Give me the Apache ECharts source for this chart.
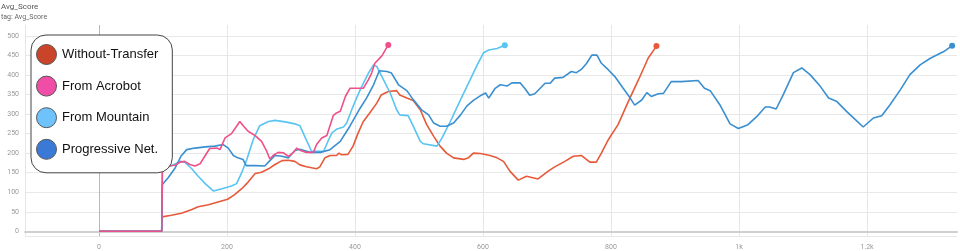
<!DOCTYPE html>
<html>
<head>
<meta charset="utf-8">
<script src="https://cdn.jsdelivr.net/npm/echarts@6/dist/echarts.min.js"></script>
<style>html,body{margin:0;padding:0;background:#fff;}#c{width:960px;height:251px;}</style>
</head>
<body>
<div id="c"></div>
<script>
// ---- data (step, Avg_Score) ----
const seriesNames = ['Without-Transfer', 'From Acrobot', 'From Mountain', 'Progressive Net.'];

const withoutTransfer = [
  [0,0],[98,0],[99,37],[113,41],[129,46],[145,56],[155,63],[171,68],[186,75],[201,82],[212,94],[223,109],
  [233,126],[244,148],[254,151],[265,160],[275,171],[286,181],[296,182],[306,179],[314,170],[324,165],
  [340,160],[345,165],[353,188],[361,194],[371,194],[375,200],[379,196],[389,197],[397,218],[405,252],
  [413,281],[423,303],[434,328],[441,349],[452,358],[465,360],[470,349],[481,341],[491,335],[502,311],
  [512,273],[523,243],[533,218],[543,200],[554,188],[570,184],[577,188],[585,200],[596,199],[611,194],
  [622,188],[632,179],[642,154],[655,131],[668,141],[686,134],[702,154],[712,165],[728,179],[741,192],
  [754,194],[767,177],[777,177],[785,200],[796,235],[811,273],[827,332],[843,388],[858,443],[871,474]
];

const fromAcrobot = [
  [0,0],[98,0],[99,154],[108,167],[119,169],[127,177],[134,179],[142,171],[150,167],[158,173],[166,194],
  [173,212],[184,213],[189,209],[197,239],[207,250],[215,269],[220,281],[226,269],[233,256],[244,245],
  [254,230],[262,205],[267,185],[272,194],[280,202],[288,201],[296,192],[304,202],[309,213],[316,206],
  [324,202],[335,202],[340,222],[348,239],[356,245],[366,296],[371,303],[377,307],[385,345],[392,366],
  [413,366],[421,388],[426,405],[431,430],[442,449],[452,477]
];

const fromMountain = [
  [0,0],[98,0],[99,160],[113,168],[127,179],[134,177],[145,160],[155,141],[166,122],[179,103],[192,109],
  [207,116],[215,122],[223,150],[231,184],[241,235],[251,270],[265,281],[275,284],[291,280],[306,275],
  [314,270],[322,241],[332,205],[351,205],[359,235],[364,252],[372,262],[382,267],[387,277],[397,320],
  [408,362],[421,405],[429,426],[434,422],[442,396],[455,354],[465,311],[470,298],[483,296],[491,269],
  [502,230],[507,224],[528,218],[536,239],[549,281],[565,337],[580,388],[591,426],[601,457],[609,464],
  [622,468],[634,476]
];

const progressiveNet = [
  [0,0],[98,0],[99,120],[108,137],[119,162],[128,192],[137,209],[150,213],[166,216],[181,218],[194,222],
  [202,213],[210,194],[217,188],[225,184],[230,168],[243,168],[259,167],[267,181],[275,194],[286,192],
  [296,188],[306,207],[314,210],[330,202],[346,202],[361,209],[377,230],[392,269],[408,315],[418,341],
  [429,375],[438,411],[450,409],[457,405],[468,375],[481,360],[491,337],[504,311],[515,298],[523,277],
  [533,269],[543,269],[554,277],[565,298],[575,321],[585,335],[598,349],[604,354],[609,341],[619,366],
  [627,375],[638,372],[645,380],[658,380],[666,364],[673,348],[681,352],[697,379],[705,379],[712,392],
  [725,394],[738,409],[746,406],[754,415],[762,430],[770,451],[778,451],[785,430],[796,413],[806,396],
  [819,366],[830,341],[837,323],[848,336],[856,355],[863,345],[874,352],[882,353],[894,383],[910,383],
  [936,386],[946,366],[955,360],[970,324],[986,275],[999,263],[1014,273],[1028,294],[1041,318],[1048,318],
  [1058,313],[1069,349],[1085,406],[1098,418],[1111,401],[1127,371],[1140,341],[1153,332],[1168,307],
  [1181,287],[1194,267],[1210,290],[1223,296],[1236,324],[1252,362],[1267,401],[1283,426],[1299,443],
  [1309,451],[1320,460],[1333,475]
];

const xTickValues = [0, 200, 400, 600, 800, 1000, 1200];
const yTickValues = [0, 50, 100, 150, 200, 250, 300, 350, 400, 450, 500];

// ---- styles ----
const lineColors = ['#e65a3a', '#f0508a', '#58c4f2', '#3a8fd0'];
const legendColors = ['#c94428', '#f04ea6', '#6fc3fc', '#3b79d6'];

const xMin = -115.6, xMax = 1340.6, yMin = -12, yMax = 528;

function withEndDot(arr) {
  return arr.map((p, i) => i === arr.length - 1
    ? { value: p, symbol: 'circle', symbolSize: 6 }
    : { value: p });
}

function mkSeries(name, arr, color, z) {
  return {
    name: name,
    type: 'line',
    data: withEndDot(arr),
    showSymbol: true,
    symbol: 'none',
    itemStyle: { color: color },
    lineStyle: { color: color, width: 1.6 },
    z: z,
    animation: false,
    silent: true
  };
}

const chart = echarts.init(document.getElementById('c'), null, { renderer: 'canvas' });
chart.setOption({
  animation: false,
  backgroundColor: '#fff',
  title: {
    text: 'Avg_Score',
    subtext: 'tag: Avg_Score',
    left: 1,
    top: 2.5,
    itemGap: 3,
    padding: 0,
    textStyle: { fontSize: 8, fontWeight: 'normal', color: '#555', fontFamily: 'Roboto' },
    subtextStyle: { fontSize: 7, color: '#666', fontFamily: 'Roboto' }
  },
  grid: { left: 25, right: 3, top: 25, bottom: 14.3, containLabel: false },
  xAxis: {
    type: 'value',
    min: xMin,
    max: xMax,
    axisLine: { show: true, onZero: true, lineStyle: { color: '#cfcfcf', width: 2 } },
    axisTick: { show: false, customValues: [xMin].concat(xTickValues) },
    axisLabel: {
      customValues: xTickValues,
      margin: 8,
      fontSize: 7,
      color: '#999',
      fontFamily: 'Roboto',
      formatter: v => v >= 1000 ? (v / 1000) + 'k' : String(v)
    },
    splitLine: {
      show: true,
      lineStyle: { color: ['#e6e6e6', '#b8b8b8', '#e6e6e6', '#e6e6e6', '#e6e6e6', '#e6e6e6', '#e6e6e6', '#e6e6e6'], width: 1 }
    }
  },
  yAxis: {
    type: 'value',
    min: yMin,
    max: yMax,
    axisLine: { show: false, onZero: false },
    axisTick: { show: false, customValues: [yMin].concat(yTickValues) },
    axisLabel: {
      customValues: yTickValues,
      margin: 6,
      fontSize: 7,
      color: '#999',
      fontFamily: 'Roboto'
    },
    splitLine: { show: true, lineStyle: { color: '#e8e8e8', width: 1 } }
  },
  legend: {
    orient: 'vertical',
    left: 31,
    top: 35,
    padding: [9, 14, 13, 5],
    itemWidth: 21,
    itemHeight: 20,
    itemGap: 10.6,
    icon: 'circle',
    backgroundColor: '#fff',
    borderColor: '#444',
    borderWidth: 1,
    borderRadius: 15,
    selectedMode: false,
    itemStyle: { borderColor: '#555', borderWidth: 1 },
    textStyle: { fontSize: 13, color: '#111', fontFamily: 'Liberation Sans' },
    data: seriesNames.map((n, i) => ({ name: n, itemStyle: { color: legendColors[i] } })),
    z: 10
  },
  series: [
    mkSeries(seriesNames[0], withoutTransfer, lineColors[0], 2),
    mkSeries(seriesNames[2], fromMountain, lineColors[2], 3),
    mkSeries(seriesNames[3], progressiveNet, lineColors[3], 4),
    mkSeries(seriesNames[1], fromAcrobot, lineColors[1], 5)
  ]
});
</script>
</body>
</html>
